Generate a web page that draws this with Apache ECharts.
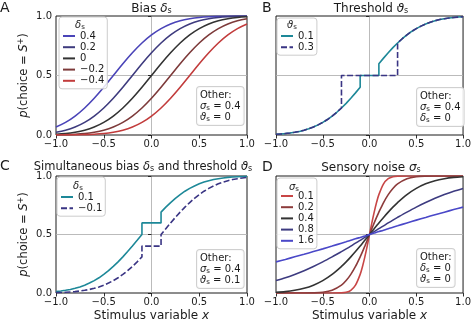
<!DOCTYPE html>
<html>
<head>
<meta charset="utf-8">
<script src="https://cdn.jsdelivr.net/npm/echarts@6/dist/echarts.min.js"></script>
<style>
  html, body { margin: 0; padding: 0; background: #fff; }
  #chart { width: 474px; height: 324px; }
</style>
</head>
<body>
<div id="chart"></div>
<script>
// ---- Panel A: bias δs (σs = 0.4, ϑs = 0) ----
const xA = [-1.0, -0.9, -0.8, -0.7, -0.6, -0.5, -0.4, -0.3, -0.2, -0.1, 0.0,
            0.1, 0.2, 0.3, 0.4, 0.5, 0.6, 0.7, 0.8, 0.9, 1.0];
const biasLabels = ['0.4', '0.2', '0', '\u22120.2', '\u22120.4'];
const biasP04  = [0.067, 0.106, 0.159, 0.227, 0.309, 0.401, 0.500, 0.599, 0.691, 0.773, 0.841, 0.894, 0.933, 0.960, 0.977, 0.988, 0.994, 0.997, 0.999, 0.999, 1.000];
const biasP02  = [0.023, 0.040, 0.067, 0.106, 0.159, 0.227, 0.309, 0.401, 0.500, 0.599, 0.691, 0.773, 0.841, 0.894, 0.933, 0.960, 0.977, 0.988, 0.994, 0.997, 0.999];
const biasP00  = [0.006, 0.012, 0.023, 0.040, 0.067, 0.106, 0.159, 0.227, 0.309, 0.401, 0.500, 0.599, 0.691, 0.773, 0.841, 0.894, 0.933, 0.960, 0.977, 0.988, 0.994];
const biasM02  = [0.001, 0.003, 0.006, 0.012, 0.023, 0.040, 0.067, 0.106, 0.159, 0.227, 0.309, 0.401, 0.500, 0.599, 0.691, 0.773, 0.841, 0.894, 0.933, 0.960, 0.977];
const biasM04  = [0.000, 0.001, 0.001, 0.003, 0.006, 0.012, 0.023, 0.040, 0.067, 0.106, 0.159, 0.227, 0.309, 0.401, 0.500, 0.599, 0.691, 0.773, 0.841, 0.894, 0.933];

// ---- Panel B: threshold ϑs (σs = 0.4, δs = 0) ----
const threshLabels = ['0.1', '0.3'];
const thrX01 = [-1, -0.95, -0.9, -0.85, -0.8, -0.75, -0.7, -0.65, -0.6, -0.55, -0.5, -0.45, -0.4, -0.35, -0.3, -0.25, -0.2, -0.15, -0.1,
                -0.1, 0.1,
                0.1, 0.15, 0.2, 0.25, 0.3, 0.35, 0.4, 0.45, 0.5, 0.55, 0.6, 0.65, 0.7, 0.75, 0.8, 0.85, 0.9, 0.95, 1];
const thrP01 = [0.006, 0.009, 0.012, 0.017, 0.023, 0.030, 0.040, 0.052, 0.067, 0.085, 0.106, 0.130, 0.159, 0.191, 0.227, 0.266, 0.309, 0.354, 0.401,
                0.500, 0.500,
                0.599, 0.646, 0.691, 0.734, 0.773, 0.809, 0.841, 0.870, 0.894, 0.915, 0.933, 0.948, 0.960, 0.970, 0.977, 0.983, 0.988, 0.991, 0.994];
const thrX03 = [-1, -0.95, -0.9, -0.85, -0.8, -0.75, -0.7, -0.65, -0.6, -0.55, -0.5, -0.45, -0.4, -0.35, -0.3,
                -0.3, 0.3,
                0.3, 0.35, 0.4, 0.45, 0.5, 0.55, 0.6, 0.65, 0.7, 0.75, 0.8, 0.85, 0.9, 0.95, 1];
const thrP03 = [0.006, 0.009, 0.012, 0.017, 0.023, 0.030, 0.040, 0.052, 0.067, 0.085, 0.106, 0.130, 0.159, 0.191, 0.227,
                0.500, 0.500,
                0.773, 0.809, 0.841, 0.870, 0.894, 0.915, 0.933, 0.948, 0.960, 0.970, 0.977, 0.983, 0.988, 0.991, 0.994];

// ---- Panel C: bias and threshold together (σs = 0.4, ϑs = 0.1) ----
const bothLabels = ['0.1', '\u22120.1'];
const bothX = thrX01;
const bothP01  = [0.012, 0.017, 0.023, 0.030, 0.040, 0.052, 0.067, 0.085, 0.106, 0.130, 0.159, 0.191, 0.227, 0.266, 0.309, 0.354, 0.401, 0.450, 0.500,
                  0.599, 0.599,
                  0.691, 0.734, 0.773, 0.809, 0.841, 0.870, 0.894, 0.915, 0.933, 0.948, 0.960, 0.970, 0.977, 0.983, 0.988, 0.991, 0.994, 0.996, 0.997];
const bothPm01 = [0.003, 0.004, 0.006, 0.009, 0.012, 0.017, 0.023, 0.030, 0.040, 0.052, 0.067, 0.085, 0.106, 0.130, 0.159, 0.191, 0.227, 0.266, 0.309,
                  0.401, 0.401,
                  0.500, 0.550, 0.599, 0.646, 0.691, 0.734, 0.773, 0.809, 0.841, 0.870, 0.894, 0.915, 0.933, 0.948, 0.960, 0.970, 0.977, 0.983, 0.988];

// ---- Panel D: sensory noise σs (δs = 0, ϑs = 0) ----
const xD = [-1, -0.9, -0.8, -0.7, -0.6, -0.5, -0.4, -0.3, -0.25, -0.2, -0.15, -0.1, -0.075, -0.05, -0.025, 0,
            0.025, 0.05, 0.075, 0.1, 0.15, 0.2, 0.25, 0.3, 0.4, 0.5, 0.6, 0.7, 0.8, 0.9, 1];
const noiseLabels = ['0.1', '0.2', '0.4', '0.8', '1.6'];
const noiseP01 = [0, 0, 0, 0, 0, 0, 0, 0.001, 0.006, 0.023, 0.067, 0.159, 0.227, 0.309, 0.401, 0.500,
                  0.599, 0.691, 0.773, 0.841, 0.933, 0.977, 0.994, 0.999, 1, 1, 1, 1, 1, 1, 1];
const noiseP02 = [0, 0, 0, 0, 0.001, 0.006, 0.023, 0.067, 0.106, 0.159, 0.227, 0.309, 0.354, 0.401, 0.450, 0.500,
                  0.550, 0.599, 0.646, 0.691, 0.773, 0.841, 0.894, 0.933, 0.977, 0.994, 0.999, 1, 1, 1, 1];
const noiseP04 = [0.006, 0.012, 0.023, 0.040, 0.067, 0.106, 0.159, 0.227, 0.266, 0.309, 0.354, 0.401, 0.426, 0.450, 0.475, 0.500,
                  0.525, 0.550, 0.574, 0.599, 0.646, 0.691, 0.734, 0.773, 0.841, 0.894, 0.933, 0.960, 0.977, 0.988, 0.994];
const noiseP08 = [0.106, 0.130, 0.159, 0.191, 0.227, 0.266, 0.309, 0.354, 0.377, 0.401, 0.426, 0.450, 0.463, 0.475, 0.488, 0.500,
                  0.512, 0.525, 0.537, 0.550, 0.574, 0.599, 0.623, 0.646, 0.691, 0.734, 0.773, 0.809, 0.841, 0.870, 0.894];
const noiseP16 = [0.266, 0.287, 0.309, 0.331, 0.354, 0.377, 0.401, 0.426, 0.438, 0.450, 0.463, 0.475, 0.481, 0.488, 0.494, 0.500,
                  0.506, 0.512, 0.519, 0.525, 0.537, 0.550, 0.562, 0.574, 0.599, 0.623, 0.646, 0.669, 0.691, 0.713, 0.734];

// ---- styling ----
const FONT = 'DejaVu Sans';
const INK = '#1a1a1a';
const REF = '#b3b3b3';
const TEAL = '#1d8898';
const NAVY = '#3a3584';
const DASH = [6, 2.5];
const biasColors  = ['#4a44b8', '#3e3b7e', '#333333', '#7d3a3a', '#c23c3c'];
const noiseColors = ['#c84646', '#8c3b3b', '#333333', '#3d3b80', '#4a48c8'];

const grids = [
  { left: 56,  top: 16,  width: 191, height: 119 },
  { left: 276, top: 16,  width: 190, height: 119 },
  { left: 56,  top: 176, width: 191, height: 117 },
  { left: 276, top: 176, width: 190, height: 117 }
];

const fmtTick = v => (v < 0 ? '\u2212' : '') + Math.abs(v).toFixed(1);

function pairs(xs, ys) { return xs.map((x, i) => [x, ys[i]]); }

function line(panel, label, xs, ys, color, extra) {
  return Object.assign({
    type: 'line',
    name: panel + ':' + label,
    xAxisIndex: panel, yAxisIndex: panel,
    data: pairs(xs, ys),
    showSymbol: false, symbol: 'none',
    smooth: false,
    lineStyle: { color: color, width: 1.6 },
    itemStyle: { color: color },
    emphasis: { disabled: true },
    animation: false,
    z: 3
  }, extra || {});
}

const series = [];
const seriesA = [biasP04, biasP02, biasP00, biasM02, biasM04];
seriesA.forEach((ys, i) => series.push(line(0, biasLabels[i], xA, ys, biasColors[i], { smooth: 0.35 })));
series.push(line(1, threshLabels[0], thrX01, thrP01, TEAL));
series.push(line(1, threshLabels[1], thrX03, thrP03, NAVY, { lineStyle: { color: NAVY, width: 1.6, type: DASH } }));
series.push(line(2, bothLabels[0], bothX, bothP01, TEAL));
series.push(line(2, bothLabels[1], bothX, bothPm01, NAVY, { lineStyle: { color: NAVY, width: 1.6, type: DASH } }));
const seriesD = [noiseP01, noiseP02, noiseP04, noiseP08, noiseP16];
seriesD.forEach((ys, i) => series.push(line(3, noiseLabels[i], xD, ys, noiseColors[i], { smooth: 0.3 })));

const xAxes = grids.map((g, i) => ({
  type: 'value', gridIndex: i, min: -1, max: 1, interval: 0.5,
  axisLine: { show: false },
  axisTick: { show: true, length: 3.5, lineStyle: { color: INK, width: 0.9 } },
  axisLabel: { show: true, formatter: fmtTick, fontFamily: FONT, fontSize: 10, color: INK, margin: 4 },
  splitLine: { show: true, lineStyle: { color: ['rgba(0,0,0,0)', 'rgba(0,0,0,0)', REF], width: 0.9 } },
  name: i >= 2 ? '{t|Stimulus variable }{i|x}' : '',
  nameLocation: 'middle', nameGap: 17,
  nameTextStyle: {
    fontFamily: FONT, fontSize: 12, color: INK,
    rich: { t: { fontFamily: FONT, fontSize: 12, color: INK },
            i: { fontFamily: FONT, fontSize: 12, color: INK, fontStyle: 'italic' } }
  }
}));

const yAxes = grids.map((g, i) => ({
  type: 'value', gridIndex: i, min: 0, max: 1, interval: 0.5,
  axisLine: { show: false },
  axisTick: { show: true, length: 3.5, lineStyle: { color: INK, width: 0.9 } },
  axisLabel: { show: i % 2 === 0, formatter: fmtTick, fontFamily: FONT, fontSize: 10, color: INK, margin: 4 },
  splitLine: { show: true, lineStyle: { color: ['rgba(0,0,0,0)', REF], width: 0.9 } },
  name: i % 2 === 0 ? '{i|p}{t|(choice = }{i|S}{u|+}{t|)}' : '',
  nameLocation: 'middle', nameGap: 24, nameRotate: 90,
  nameTextStyle: {
    fontFamily: FONT, fontSize: 11.5, color: INK,
    rich: { t: { fontFamily: FONT, fontSize: 11.5, color: INK },
            i: { fontFamily: FONT, fontSize: 11.5, color: INK, fontStyle: 'italic' },
            u: { fontFamily: FONT, fontSize: 8, color: INK, padding: [0, 0, 7, 0] } }
  }
}));

function legendFor(panel, labels, left, top, padTop) {
  return {
    orient: 'vertical', left: left, top: top,
    data: labels.map(l => ({ name: panel + ':' + l, icon: 'inherit' })),
    formatter: n => n.slice(n.indexOf(':') + 1),
    selectedMode: false,
    itemWidth: 12, itemHeight: 9, itemGap: 1.2,
    itemStyle: { opacity: 0 },
    padding: [padTop, 3, 3, 3],
    backgroundColor: 'rgba(255,255,255,0.85)',
    borderColor: '#cccccc', borderWidth: 1, borderRadius: 3,
    textStyle: { fontFamily: FONT, fontSize: 10, color: INK, lineHeight: 10 },
    z: 10
  };
}

const legends = [
  legendFor(0, biasLabels, 59, 17, 14),
  legendFor(1, threshLabels, 277, 18, 13),
  legendFor(2, bothLabels, 57, 177, 15),
  legendFor(3, noiseLabels, 277, 178, 13)
];

function richSet(size) {
  return {
    g: { fontFamily: FONT, fontSize: size, fontStyle: 'italic', fill: INK, color: INK },
    s: { fontFamily: FONT, fontSize: Math.round(size * 0.7), fill: INK, color: INK, padding: [Math.round(size * 0.35), 0, 0, 0] },
    t: { fontFamily: FONT, fontSize: size, fill: INK, color: INK }
  };
}
const sym = g => '{g|' + g + '}{s|s}';

function text(x, y, str, size, align, vAlign, extraStyle) {
  return {
    type: 'text', x: x, y: y, z: 100, silent: true,
    style: Object.assign({
      text: str, fontFamily: FONT, fontSize: size, fill: INK,
      align: align, verticalAlign: vAlign, rich: richSet(size)
    }, extraStyle || {})
  };
}

function otherBox(x, y, lines) {
  return text(x, y, lines.join('\n'), 10, 'left', 'top', {
    lineHeight: 11,
    backgroundColor: 'rgba(255,255,255,0.85)',
    borderColor: '#d0d0d0', borderWidth: 1, borderRadius: 3,
    padding: [3, 3, 2, 3]
  });
}

const graphics = [
  // panel letters
  text(0, 8, 'A', 14, 'left', 'middle'),
  text(262, 8, 'B', 14, 'left', 'middle'),
  text(0, 166, 'C', 14, 'left', 'middle'),
  text(262, 167, 'D', 14, 'left', 'middle'),
  // panel titles
  text(151.5, 9, '{t|Bias }' + sym('δ'), 12, 'center', 'middle'),
  text(371, 9, '{t|Threshold }' + sym('ϑ'), 12, 'center', 'middle'),
  text(143, 167, '{t|Simultaneous bias }' + sym('δ') + '{t| and threshold }' + sym('ϑ'), 11.5, 'center', 'middle'),
  text(371, 168, '{t|Sensory noise }' + sym('σ'), 12, 'center', 'middle'),
  // legend titles
  text(80, 25, sym('δ'), 10, 'center', 'middle'),
  text(292, 25, sym('ϑ'), 10, 'center', 'middle'),
  text(78, 186, sym('δ'), 10, 'center', 'middle'),
  text(294, 187, sym('σ'), 10, 'center', 'middle'),
  // fixed-parameter notes
  otherBox(197, 87, ['{t|Other:}', sym('σ') + '{t| = 0.4}', sym('ϑ') + '{t| = 0}']),
  otherBox(417, 88, ['{t|Other:}', sym('σ') + '{t| = 0.4}', sym('δ') + '{t| = 0}']),
  otherBox(197, 250, ['{t|Other:}', sym('σ') + '{t| = 0.4}', sym('ϑ') + '{t| = 0.1}']),
  otherBox(417, 249, ['{t|Other:}', sym('δ') + '{t| = 0}', sym('ϑ') + '{t| = 0}'])
];

const chart = echarts.init(document.getElementById('chart'), null, { renderer: 'canvas' });
chart.setOption({
  animation: false,
  backgroundColor: '#ffffff',
  textStyle: { fontFamily: FONT },
  grid: grids.map(g => Object.assign({ show: true, borderColor: INK, borderWidth: 1, backgroundColor: 'rgba(0,0,0,0)' }, g)),
  xAxis: xAxes,
  yAxis: yAxes,
  legend: legends,
  series: series,
  graphic: graphics
});
</script>
</body>
</html>
